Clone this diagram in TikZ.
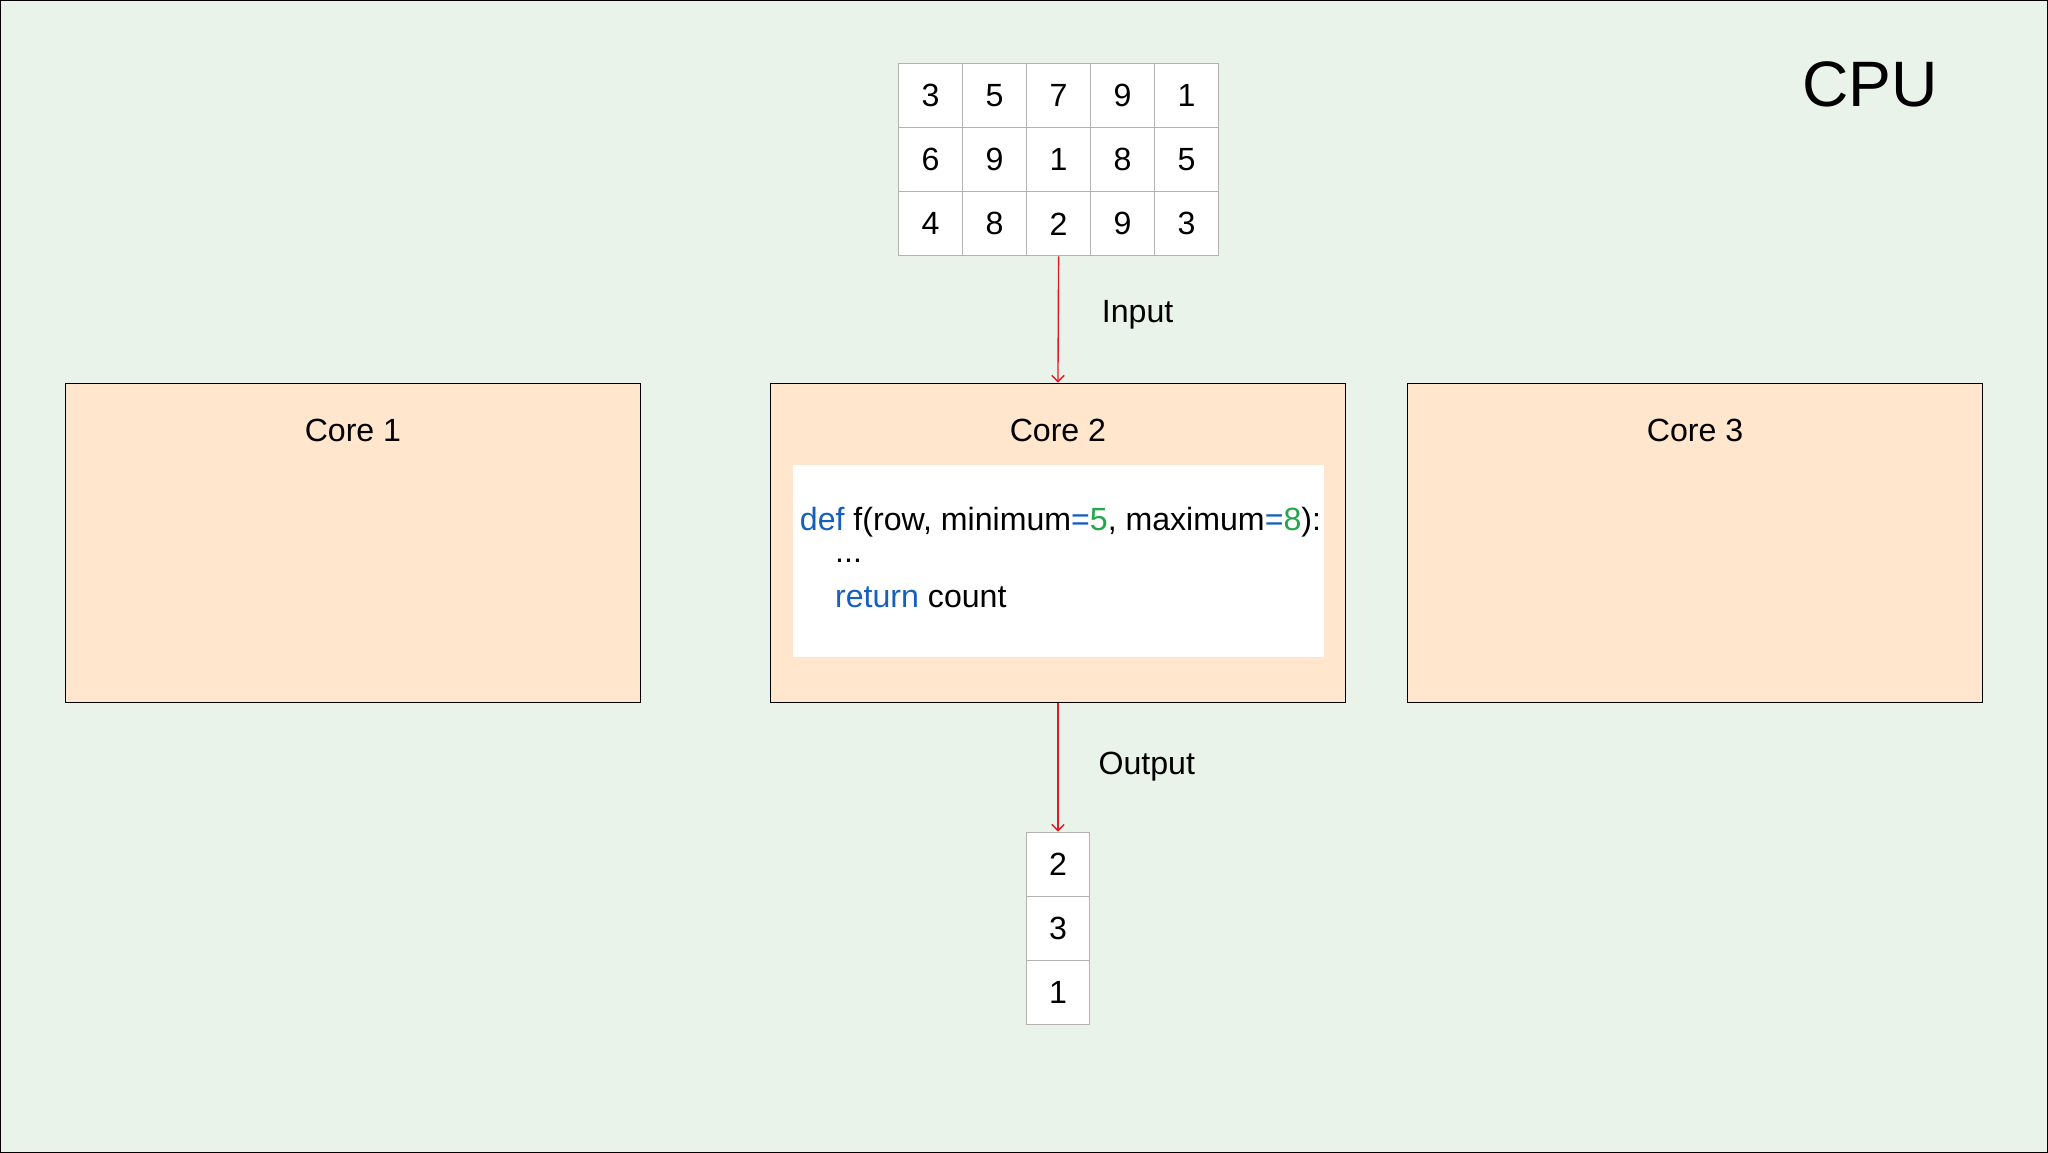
\documentclass[tikz,border=0pt]{standalone}
\usepackage{fontspec}
\setmainfont{Liberation Sans}
\usetikzlibrary{arrows.meta,positioning,calc}
\definecolor{cpubg}{HTML}{E9F3EA}
\definecolor{corebg}{HTML}{FFE6CC}
\definecolor{kwblue}{HTML}{1560BD}
\definecolor{numgreen}{HTML}{22A84A}
\definecolor{flowred}{HTML}{E01B1B}
\tikzset{
  cell/.style={draw=black!30, fill=white, minimum size=0.98cm, inner sep=0pt, font=\fontsize{14}{16}\selectfont},
  corebox/.style={draw=black, fill=corebg, minimum width=8.8cm, minimum height=4.9cm, inner sep=0pt},
  flow/.style={->, >=Straight Barb, flowred, line width=0.6pt},
  lbl/.style={font=\fontsize{14}{16}\selectfont}
}
\begin{document}
\begin{tikzpicture}[x=0.02cm, y=-0.02cm]
  % frame
  \draw[fill=cpubg, draw=black] (0,0) rectangle (1568,882);
  \useasboundingbox (0,0) rectangle (1568,882);
  \node[font=\fontsize{28}{32}\selectfont] (cpu) at (1432,64) {CPU};

  % input table
  \foreach \r/\vals in {1/{3,5,7,9,1}, 2/{6,9,1,8,5}, 3/{4,8,2,9,3}} {
    \foreach \v [count=\c] in \vals {
      \node[cell] (in-\r-\c) at ({712.5+49*(\c-1)}, {72.5+49.3*(\r-1)}) {\v};
    }
  }

  % cores
  \node[corebox] (core1) at (270,415.5) {};
  \node[corebox] (core2) at (810,415.5) {};
  \node[corebox] (core3) at (1298,415.5) {};
  \node[lbl] at (270,329) {Core 1};
  \node[lbl] at (810,329) {Core 2};
  \node[lbl] at (1298,329) {Core 3};

  % code
  \fill[white] (607,356) rectangle (1014,503);
  \node[lbl, anchor=west, inner sep=0pt] (code1) at (612,400)
    {\textcolor{kwblue}{def} f(row, minimum\textcolor{kwblue}{=}\textcolor{numgreen}{5}, maximum\textcolor{kwblue}{=}\textcolor{numgreen}{8}):};
  \node[lbl, anchor=west, inner sep=0pt] (code2) at (639,429) {...};
  \node[lbl, anchor=west, inner sep=0pt] (code3) at (639,457) {\textcolor{kwblue}{return} count};

  % output column
  \foreach \v [count=\r] in {2,3,1} {
    \node[cell] (out-\r) at (810, {661.5+49*(\r-1)}) {\v};
  }

  % connectors
  \draw[flow] (in-3-3.south) -- (core2.north);
  \node[lbl] (inlbl) at (871,241) {Input};
  \draw[flow] (core2.south) -- (out-1.north);
  \node[lbl] (outlbl) at (878,587) {Output};
\end{tikzpicture}
\end{document}
